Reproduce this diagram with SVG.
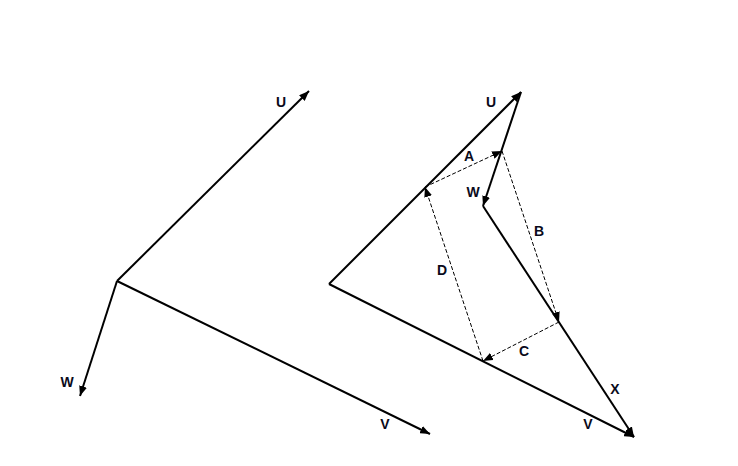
<svg xmlns="http://www.w3.org/2000/svg" width="738" height="466" viewBox="0 0 738 466">
<style>
.s{stroke:#000;stroke-width:2;fill:none}
.d{stroke:#000;stroke-width:1;stroke-dasharray:4 2;fill:none}
text{font-family:"Liberation Sans",Arial,sans-serif;font-weight:bold;font-size:14px;fill:#0a0a1a;text-anchor:middle}
</style>
<defs>
<marker id="a" viewBox="0 0 10 8" refX="10" refY="4" markerWidth="10" markerHeight="8" markerUnits="userSpaceOnUse" orient="auto"><path d="M0,0L10,4L0,8z" fill="#000"/></marker>
</defs>
<rect width="738" height="466" fill="#fff"/>
<g id="connectors">
<line class="s" x1="117" y1="281" x2="309" y2="91" marker-end="url(#a)"/>
<line class="s" x1="117" y1="281" x2="80" y2="396" marker-end="url(#a)"/>
<line class="s" x1="117" y1="281" x2="430" y2="434" marker-end="url(#a)"/>
<line class="s" x1="329" y1="284" x2="521" y2="92" marker-end="url(#a)"/>
<line class="s" x1="521" y1="92" x2="483" y2="206" marker-end="url(#a)"/>
<line class="s" x1="483" y1="206" x2="634" y2="437" marker-end="url(#a)"/>
<line class="s" x1="329" y1="284" x2="634" y2="437" marker-end="url(#a)"/>
<line class="d" x1="425" y1="187" x2="502" y2="151" marker-end="url(#a)"/>
<line class="d" x1="502" y1="151" x2="559" y2="322" marker-end="url(#a)"/>
<line class="d" x1="559" y1="322" x2="483" y2="361" marker-end="url(#a)"/>
<line class="d" x1="483" y1="361" x2="425" y2="187" marker-end="url(#a)"/>
</g>
<g id="labels">
<text x="281" y="107">U</text>
<text x="67" y="387">W</text>
<text x="385" y="429">V</text>
<text x="491" y="107">U</text>
<text x="469" y="161">A</text>
<text x="473" y="197">W</text>
<text x="539" y="236">B</text>
<text x="442" y="275">D</text>
<text x="524" y="356">C</text>
<text x="615" y="394">X</text>
<text x="588" y="429">V</text>
</g>
</svg>
